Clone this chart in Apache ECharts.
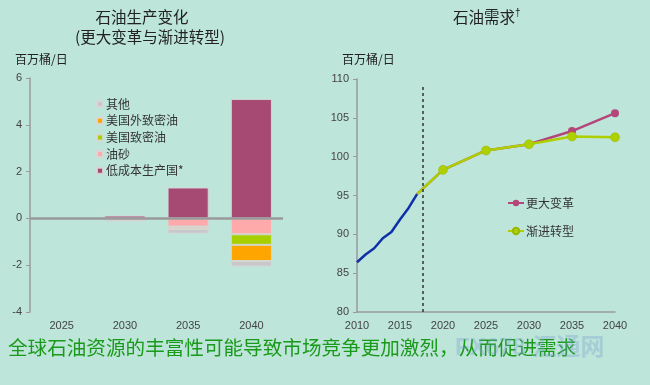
<!DOCTYPE html>
<html>
<head>
<meta charset="utf-8">
<script src="https://cdn.jsdelivr.net/npm/echarts@6/dist/echarts.min.js"></script>
<style>
html,body{margin:0;padding:0;background:#bde5d9;}
#chart{width:650px;height:385px;}
</style>
</head>
<body>
<div id="chart"></div>
<script>
// Left chart: production change (million barrels/day)
const prodCategories = ['2025', '2030', '2035', '2040'];
const lowCost    = [null, 0.12, 1.32, 5.10];
const oilSands   = [null, -0.05, -0.35, -0.68];
const usTight    = [null, 0, -0.02, -0.45];
const nonUsTight = [null, 0, -0.08, -0.69];
const others     = [null, -0.08, -0.20, -0.24];
const prodTicks = { min: -4, max: 6, interval: 2 };

// Right chart: oil demand (million barrels/day)
const histYears  = [2010, 2011, 2012, 2013, 2014, 2015, 2016, 2017];
const histValues = [86.4, 87.4, 88.2, 89.5, 90.3, 91.9, 93.4, 95.2];
const scenYears  = [2017, 2020, 2025, 2030, 2035, 2040];
const bigChange  = [95.2, 98.3, 100.8, 101.6, 103.3, 105.6];
const gradual    = [95.2, 98.3, 100.8, 101.6, 102.6, 102.5];
const forecastStart = 2017.6;
const demandTicks = { min: 80, max: 110, interval: 5 };
const yearTicks = { min: 2010, max: 2040, interval: 5 };

const FONT = '"Liberation Sans", "Noto Sans CJK SC", sans-serif';
const CJK = '"Noto Sans CJK SC", "Liberation Sans", sans-serif';
const axisGrey = '#9a9a9a';
const labelColor = '#444';

const chart = echarts.init(document.getElementById('chart'), null, {renderer: 'canvas'});

function scenData(vals) {
  return scenYears.map((y, i) => i === 0 ? {value: [y, vals[i]], symbol: 'none'} : [y, vals[i]]);
}

const barBorder = {borderColor: 'rgba(215,215,215,0.9)', borderWidth: 1};

const option = {
  backgroundColor: '#bde5d9',
  animation: false,
  textStyle: {fontFamily: FONT},
  grid: [
    {left: 30, top: 78, width: 253, height: 234},
    {left: 357, top: 79, width: 258, height: 233}
  ],
  legend: [
    {
      data: ['其他', '美国外致密油', '美国致密油', '油砂', '低成本生产国*'],
      orient: 'vertical', left: 91, top: 93,
      itemWidth: 6, itemHeight: 6, itemGap: 4.7, icon: 'rect',
      textStyle: {fontFamily: CJK, fontSize: 12, color: '#333', padding: [0, 0, 0, -2]}
    },
    {
      data: ['更大变革', '渐进转型'],
      orient: 'vertical', left: 502, top: 192,
      itemWidth: 16, itemHeight: 8, itemGap: 16,
      textStyle: {fontFamily: CJK, fontSize: 12, color: '#333', padding: [0, 0, 0, -3]}
    }
  ],
  xAxis: [
    {
      type: 'category', gridIndex: 0, data: prodCategories,
      axisLine: {show: false}, axisTick: {show: false},
      axisLabel: {color: labelColor, fontSize: 11, margin: 8, fontFamily: FONT}
    },
    {
      type: 'value', gridIndex: 1, min: yearTicks.min, max: yearTicks.max, interval: yearTicks.interval,
      axisLine: {show: true, onZero: false, lineStyle: {color: axisGrey, width: 1.5}},
      axisTick: {show: false}, splitLine: {show: false},
      axisLabel: {color: labelColor, fontSize: 11, margin: 8, fontFamily: FONT, formatter: v => String(v)}
    }
  ],
  yAxis: [
    {
      type: 'value', gridIndex: 0, min: prodTicks.min, max: prodTicks.max, interval: prodTicks.interval,
      axisLine: {show: true, lineStyle: {color: axisGrey, width: 1.5}},
      axisTick: {show: true, length: 4, lineStyle: {color: axisGrey}},
      splitLine: {show: false},
      axisLabel: {color: labelColor, fontSize: 11, margin: 8, fontFamily: FONT}
    },
    {
      type: 'value', gridIndex: 1, min: demandTicks.min, max: demandTicks.max, interval: demandTicks.interval,
      axisLine: {show: true, lineStyle: {color: axisGrey, width: 1.5}},
      axisTick: {show: true, length: 4, lineStyle: {color: axisGrey}},
      splitLine: {show: false},
      axisLabel: {color: labelColor, fontSize: 11, margin: 8, fontFamily: FONT}
    }
  ],
  series: [
    {
      name: '低成本生产国*', type: 'bar', stack: 'p', xAxisIndex: 0, yAxisIndex: 0,
      data: lowCost, barWidth: '65%', itemStyle: Object.assign({color: '#a64a74'}, barBorder),
      markLine: {
        silent: true, symbol: 'none', label: {show: false},
        lineStyle: {color: '#9a9a9a', width: 2.5, type: 'solid'},
        data: [{yAxis: 0}]
      },
      z: 2
    },
    {
      name: '油砂', type: 'bar', stack: 'p', xAxisIndex: 0, yAxisIndex: 0,
      data: oilSands, itemStyle: Object.assign({color: '#ffaaaa'}, barBorder)
    },
    {
      name: '美国致密油', type: 'bar', stack: 'p', xAxisIndex: 0, yAxisIndex: 0,
      data: usTight, itemStyle: Object.assign({color: '#a8d000'}, barBorder)
    },
    {
      name: '美国外致密油', type: 'bar', stack: 'p', xAxisIndex: 0, yAxisIndex: 0,
      data: nonUsTight, itemStyle: Object.assign({color: '#ffa500'}, barBorder)
    },
    {
      name: '其他', type: 'bar', stack: 'p', xAxisIndex: 0, yAxisIndex: 0,
      data: others, itemStyle: Object.assign({color: '#c8c8c8'}, barBorder)
    },
    {
      name: '历史', type: 'line', xAxisIndex: 1, yAxisIndex: 1,
      data: histYears.map((y, i) => [y, histValues[i]]),
      showSymbol: false, lineStyle: {color: '#1030a8', width: 2.5}, itemStyle: {color: '#1030a8'},
      markLine: {
        silent: true, symbol: 'none', label: {show: false},
        lineStyle: {color: '#333', width: 1.5, type: [3, 3]},
        data: [[{coord: [forecastStart, 80]}, {coord: [forecastStart, 109.2]}]]
      }
    },
    {
      name: '更大变革', type: 'line', xAxisIndex: 1, yAxisIndex: 1,
      data: scenData(bigChange), symbol: 'circle', symbolSize: 8,
      lineStyle: {color: '#b5467a', width: 2.5}, itemStyle: {color: '#b5467a'}
    },
    {
      name: '渐进转型', type: 'line', xAxisIndex: 1, yAxisIndex: 1,
      data: scenData(gradual), symbol: 'circle', symbolSize: 9,
      lineStyle: {color: '#aed000', width: 2.5}, itemStyle: {color: '#aed000', borderColor: '#98b800', borderWidth: 0.5}
    }
  ],
  graphic: [
    {type: 'text', x: 142, y: 17, style: {text: '石油生产变化', fontFamily: CJK, fontSize: 15.5, fill: '#222', textAlign: 'center', textVerticalAlign: 'middle'}},
    {type: 'text', x: 150, y: 37, style: {text: '(更大变革与渐进转型)', fontFamily: CJK, fontSize: 15.5, fill: '#222', textAlign: 'center', textVerticalAlign: 'middle'}},
    {type: 'text', x: 15, y: 59, style: {text: '百万桶/日', fontFamily: CJK, fontSize: 12, fill: '#222', textVerticalAlign: 'middle'}},
    {type: 'text', x: 484, y: 17, style: {text: '石油需求', fontFamily: CJK, fontSize: 15.5, fill: '#222', textAlign: 'center', textVerticalAlign: 'middle'}},
    {type: 'text', x: 515, y: 13, style: {text: '†', fontFamily: FONT, fontSize: 10, fill: '#222', textVerticalAlign: 'middle'}},
    {type: 'text', x: 342, y: 59, style: {text: '百万桶/日', fontFamily: CJK, fontSize: 12, fill: '#222', textVerticalAlign: 'middle'}},
    {type: 'text', x: 8, y: 348, style: {text: '全球石油资源的丰富性可能导致市场竞争更加激烈，从而促进需求', fontFamily: CJK, fontSize: 19.6, fill: '#1a9a1a', textVerticalAlign: 'middle'}},
    {type: 'text', x: 455, y: 348, style: {text: 'FX678 汇通网', fontFamily: FONT, fontSize: 24, fontWeight: 'bold', fill: 'rgba(120,160,210,0.35)', textVerticalAlign: 'middle'}}
  ]
};
chart.setOption(option);
</script>
</body>
</html>
